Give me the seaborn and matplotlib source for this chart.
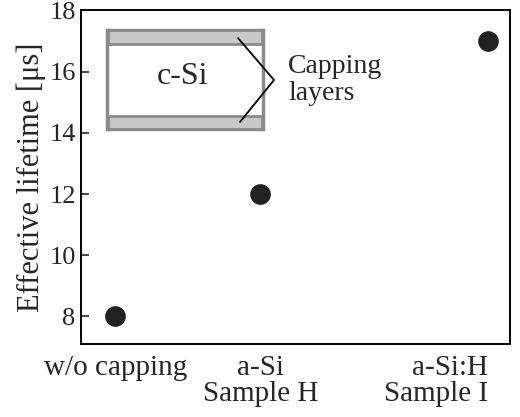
import matplotlib
matplotlib.use("Agg")
import seaborn as sns
import matplotlib.pyplot as plt
from matplotlib.patches import Rectangle

samples = ["w/o capping", "a-Si\nSample H", "a-Si:H\nSample I"]
positions = [0, 1, 2.57]
lifetime = [8, 12, 17]

sns.set_style("ticks")
plt.rcParams["font.family"] = ["Liberation Serif", "DejaVu Serif"]
plt.rcParams["font.size"] = 20

fig, ax = plt.subplots(figsize=(5.2, 4.17), dpi=100)
fig.subplots_adjust(left=0.155, right=0.98, top=0.975, bottom=0.175)
sns.scatterplot(x=positions, y=lifetime, s=190, color="#222222", edgecolor="#222222", ax=ax, zorder=3)
ax.set_xlim(-0.24, 2.72)
ax.set_ylim(7.1, 18)
ax.set_yticks([8, 10, 12, 14, 16, 18])
ax.set_xticks(positions)
ax.set_xticklabels(samples, linespacing=1.0)
ax.get_xticklabels()[2].set_ha("right")
ax.get_xticklabels()[2].set_x(2.8)
ax.set_ylabel("Effective lifetime [μs]", fontsize=22, labelpad=2)
ax.tick_params(direction="in", length=6, width=1.2, labelsize=19)
ax.tick_params(axis="x", length=0, pad=8, labelsize=21)
for s in ax.spines.values():
    s.set_linewidth(1.4)
    s.set_color("black")

def fx(px):
    return px / 520
def fy(py):
    return 1 - py / 417

gray = "#8a8a8a"
fig.patches.append(Rectangle((fx(107), fy(129)), fx(263) - fx(107), fy(30) - fy(129),
                             transform=fig.transFigure, fill=False, ec=gray, lw=2.5))
for y0, y1 in [(30, 44), (116, 129)]:
    fig.patches.append(Rectangle((fx(108), fy(y1)), fx(262) - fx(108), fy(y0) - fy(y1),
                                 transform=fig.transFigure, fc="#c8c8c8", ec=gray, lw=2))
fig.text(fx(182), fy(76), "c-Si", ha="center", va="center", fontsize=23)
fig.lines.append(plt.Line2D([fx(238), fx(274), fx(240)], [fy(38), fy(80), fy(122)],
                            transform=fig.transFigure, color="black", lw=1.3))
fig.text(fx(288), fy(80), "Capping\nlayers", ha="left", va="center", fontsize=20, linespacing=1.1)

fig.savefig("out.png", dpi=100)
